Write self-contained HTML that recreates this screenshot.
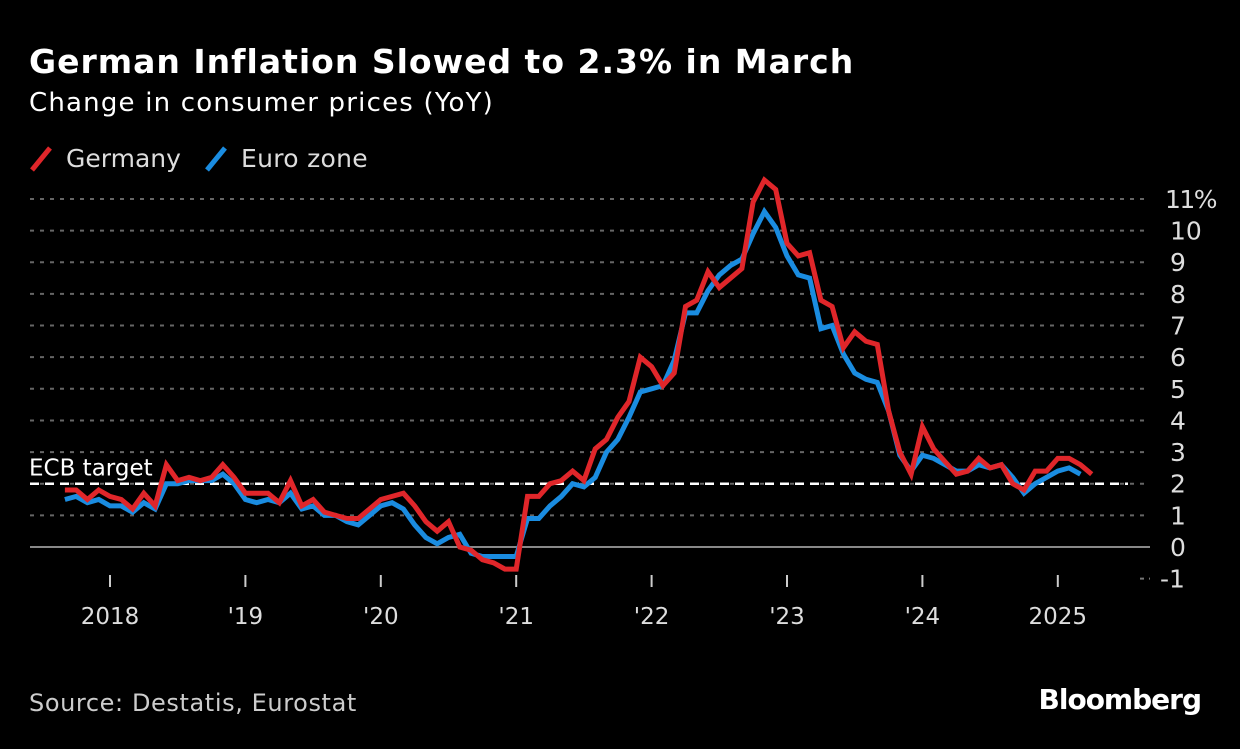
<!DOCTYPE html>
<html><head><meta charset="utf-8"><style>
body{margin:0;background:#000;width:1240px;height:744px;overflow:hidden;font-family:"Liberation Sans","DejaVu Sans",sans-serif}
svg text{font-family:"DejaVu Sans","Liberation Sans",sans-serif}
</style></head><body>
<svg id="chart" width="1240" height="744" viewBox="0 0 1240 744">
<rect width="1240" height="744" fill="#000"/>
<text x="29" y="73" fill="#fff" font-size="33" font-weight="bold" letter-spacing="1">German Inflation Slowed to 2.3% in March</text>
<text x="29" y="111" fill="#fff" font-size="26" letter-spacing="1.2">Change in consumer prices (YoY)</text>
<g>
<line x1="32" y1="170" x2="50" y2="148" stroke="#e0262a" stroke-width="5"/>
<text x="66" y="167" fill="#ddd" font-size="25">Germany</text>
<line x1="207" y1="170" x2="225" y2="148" stroke="#1a8ce0" stroke-width="5"/>
<text x="241" y="167" fill="#ddd" font-size="25" letter-spacing="0.3">Euro zone</text>
</g>
<g id="grid"></g><g id="axes"></g><g id="series"></g>
<text x="29" y="711" fill="#ccc" font-size="24" letter-spacing="0.6">Source: Destatis, Eurostat</text>
<text x="1201" y="709" fill="#fff" font-size="28" font-weight="bold" text-anchor="end" font-family="Liberation Sans" letter-spacing="-1">Bloomberg</text>
</svg>
<script>
const startYear = 2017, startMonth = 7; // Aug 2017 (0-based)
const germany = [1.8,1.8,1.5,1.8,1.6,
1.5,1.2,1.7,1.3,2.6,2.1,2.2,2.1,2.2,2.6,2.2,1.7,
1.7,1.7,1.4,2.1,1.3,1.5,1.1,1.0,0.9,0.9,1.2,1.5,
1.6,1.7,1.3,0.8,0.5,0.8,0.0,-0.1,-0.4,-0.5,-0.7,-0.7,
1.6,1.6,2.0,2.1,2.4,2.1,3.1,3.4,4.1,4.6,6.0,5.7,
5.1,5.5,7.6,7.8,8.7,8.2,8.5,8.8,10.9,11.6,11.3,9.6,
9.2,9.3,7.8,7.6,6.3,6.8,6.5,6.4,4.3,3.0,2.3,3.8,
3.1,2.7,2.3,2.4,2.8,2.5,2.6,2.0,1.8,2.4,2.4,2.8,
2.8,2.6,2.3];
const euroZone = [1.5,1.6,1.4,1.5,1.3,
1.3,1.1,1.4,1.2,2.0,2.0,2.1,2.1,2.1,2.3,2.0,1.5,
1.4,1.5,1.4,1.7,1.2,1.3,1.0,1.0,0.8,0.7,1.0,1.3,
1.4,1.2,0.7,0.3,0.1,0.3,0.4,-0.2,-0.3,-0.3,-0.3,-0.3,
0.9,0.9,1.3,1.6,2.0,1.9,2.2,3.0,3.4,4.1,4.9,5.0,
5.1,5.9,7.4,7.4,8.1,8.6,8.9,9.1,9.9,10.6,10.1,9.2,
8.6,8.5,6.9,7.0,6.1,5.5,5.3,5.2,4.3,2.9,2.4,2.9,
2.8,2.6,2.4,2.4,2.6,2.5,2.6,2.2,1.7,2.0,2.2,2.4,
2.5,2.3];
const yTicks = [-1,0,1,2,3,4,5,6,7,8,9,10,11];
const yTickLabels = ["-1","0","1","2","3","4","5","6","7","8","9","10","11%"];
const xTickYears = [2018,2019,2020,2021,2022,2023,2024,2025];
const xTickLabels = ["2018","'19","'20","'21","'22","'23","'24","2025"];
const ecbTarget = 2;

const NS = "http://www.w3.org/2000/svg";
function y(v){return 547 - v*31.64;}
function xYear(yr){return 110 + (yr-2018)*135.4;}
function xIdx(i){const m = startYear*12+startMonth+i+1; return xYear(m/12);}
function mk(tag, attrs, parent){const e=document.createElementNS(NS,tag);for(const k in attrs)e.setAttribute(k,attrs[k]);parent.appendChild(e);return e;}
const grid=document.getElementById('grid'), axes=document.getElementById('axes'), series=document.getElementById('series');
yTicks.forEach((v,i)=>{
  let l;
  if(v===0){l=mk('line',{x1:30,x2:1150,y1:y(v),y2:y(v),stroke:'#888','stroke-width':2},grid);}
  else if(v<0){l=mk('line',{x1:1140,x2:1150,y1:y(v),y2:y(v),stroke:'#777','stroke-width':2,'stroke-dasharray':'4 5'},grid);}
  else{l=mk('line',{x1:30,x2:1150,y1:y(v),y2:y(v),stroke:'#666','stroke-width':2,'stroke-dasharray':'4 6'},grid);}
  
  
  const t=mk('text',{x:v<0?1160:(v===11?1165:1170),y:y(v)+9,fill:'#ddd','font-size':25,'letter-spacing':v===11?-1.5:0},axes);
  t.textContent=yTickLabels[i];
  
  
});
xTickYears.forEach((yr,i)=>{
  const x=xYear(yr);
  const tk=mk('line',{x1:x,x2:x,y1:575,y2:587,stroke:'#ccc','stroke-width':2},axes);
  
  
  const t=mk('text',{x:x,y:624,fill:'#ddd','font-size':23,'text-anchor':'middle'},axes);
  t.textContent=xTickLabels[i];
  
  
});
const ecb=mk('line',{x1:30,x2:1128,y1:y(ecbTarget),y2:y(ecbTarget),stroke:'#fff','stroke-width':2.5,'stroke-dasharray':'9 6'},series);


const et=mk('text',{x:29,y:y(ecbTarget)-8,fill:'#fff','font-size':23},series);
et.textContent='ECB target';


function line(data,color,name){
  const d=data.map((v,i)=>(i?'L':'M')+xIdx(i).toFixed(1)+' '+y(v).toFixed(1)).join(' ');
  const p=mk('path',{d:d,fill:'none',stroke:color,'stroke-width':5,'stroke-linejoin':'miter','stroke-miterlimit':3},series);
  
  
}
line(euroZone,'#1a8ce0','euro-zone-line');
line(germany,'#e0262a','germany-line');
</script>
</body></html>
